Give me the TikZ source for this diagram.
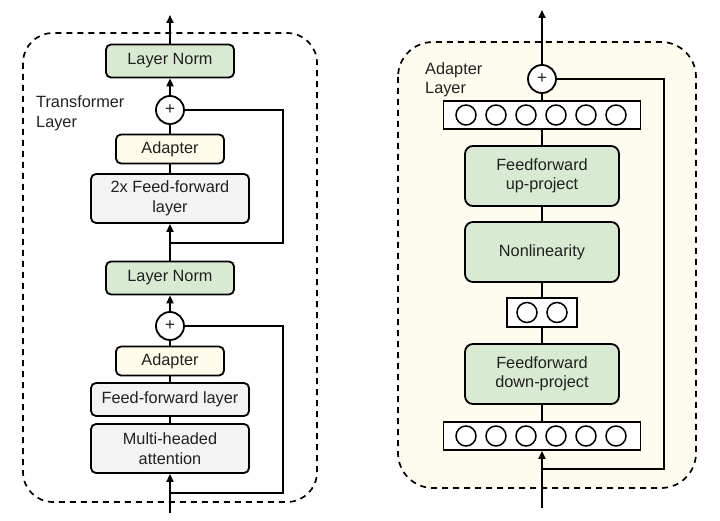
\documentclass[tikz,border=0pt]{standalone}
\usepackage{fontspec}
\setmainfont{Liberation Sans}
\usetikzlibrary{arrows.meta}
\definecolor{normgreen}{HTML}{D9EAD3}
\definecolor{adaptyellow}{HTML}{FFFCEC}
\definecolor{layeryellow}{HTML}{FEFCEE}
\definecolor{ffgray}{HTML}{F3F3F3}
\definecolor{txtgray}{HTML}{212121}

\tikzset{
  blk/.style={draw=black, line width=1.8pt, rounded corners=5pt, align=center,
    text=txtgray, inner sep=0pt, font=\fontsize{16.3}{19.5}\selectfont},
  normblk/.style={blk, fill=normgreen, minimum width=128pt, minimum height=33pt},
  adaptblk/.style={blk, fill=adaptyellow, minimum width=108pt, minimum height=29pt},
  ffblk/.style={blk, fill=ffgray, minimum width=158pt},
  projblk/.style={blk, fill=normgreen, rounded corners=8pt, minimum width=154pt, minimum height=60pt},
  vecbox/.style={draw=black, line width=1.8pt, fill=white, inner sep=0pt},
  unit/.style={circle, draw=black, line width=1.5pt, fill=white, minimum size=20pt, inner sep=0pt},
  plus/.style={circle, draw=black, line width=1.8pt, fill=white, minimum size=28pt, inner sep=0pt,
    text=txtgray, font=\fontsize{17}{17}\selectfont},
  lbl/.style={align=left, text=txtgray, inner sep=0pt, font=\fontsize{16.3}{19.5}\selectfont},
  layerbox/.style={line width=1.7pt, dash pattern=on 6pt off 5pt},
  conn/.style={line width=1.8pt},
  arr/.style={conn, -{Triangle[length=8pt,width=7pt]}}
}

\begin{document}
\begin{tikzpicture}[x=1pt,y=-1pt]
\useasboundingbox (0,0) rectangle (720,521);

% transformer layer
\draw[layerbox, rounded corners=30pt] (23,33) rectangle (317,502);
\node[lbl, anchor=north west] (tlbl) at (36,96) {Transformer\\Layer};

\node[normblk] (ln1) at (170,61) {Layer Norm};
\node[plus] (plus1) at (170,110) {+};
\node[adaptblk] (ad1) at (170,149) {Adapter};
\node[ffblk, minimum height=49pt] (ff2) at (170,198.5) {2x Feed-forward\\layer};
\node[normblk] (ln2) at (170,278) {Layer Norm};
\node[plus] (plus2) at (170,326) {+};
\node[adaptblk] (ad2) at (170,361) {Adapter};
\node[ffblk, minimum height=33pt] (ff1) at (170,399.5) {Feed-forward layer};
\node[ffblk, minimum height=49pt] (mha) at (170,448.5) {Multi-headed\\attention};

\coordinate (out1) at (170,15);
\coordinate (in1) at (170,513);
\coordinate (s1) at (283,243);
\coordinate (j1) at (170,243);
\coordinate (s2) at (283,493);
\coordinate (j2) at (170,493);

\draw[arr] (ln1) -- (out1);
\draw[arr] (plus1) -- (ln1);
\draw[conn] (ad1) -- (plus1);
\draw[conn] (ff2) -- (ad1);
\draw[arr] (ln2) -- (ff2);
\draw[arr] (plus2) -- (ln2);
\draw[conn] (ad2) -- (plus2);
\draw[conn] (ff1) -- (ad2);
\draw[conn] (mha) -- (ff1);
\draw[arr] (in1) -- (mha);
\draw[conn] (plus1.east) -| (s1) -- (j1);
\draw[conn] (plus2.east) -| (s2) -- (j2);

% adapter layer
\draw[layerbox, fill=layeryellow, rounded corners=35pt] (398,42) rectangle (696,488);
\node[lbl, anchor=north west] (albl) at (425,62) {Adapter\\Layer};

\node[plus] (plus3) at (542,79) {+};
\node[vecbox, minimum width=197pt, minimum height=28pt] (vtop) at (542,115) {};
\foreach \i in {0,...,5}
  \node[unit] (t\i) at ({466+30*\i},115) {};
\node[projblk] (up) at (542,176) {Feedforward\\up-project};
\node[projblk] (nl) at (542,252) {Nonlinearity};
\node[vecbox, minimum width=70pt, minimum height=29pt] (vmid) at (542,312.5) {};
\foreach \i in {0,1}
  \node[unit] (m\i) at ({527+30*\i},312.5) {};
\node[projblk] (down) at (542,374) {Feedforward\\down-project};
\node[vecbox, minimum width=197pt, minimum height=28pt] (vbot) at (542,436) {};
\foreach \i in {0,...,5}
  \node[unit] (b\i) at ({466+30*\i},436) {};

\coordinate (out2) at (542,10);
\coordinate (in2) at (542,508);
\coordinate (s3) at (664,469);
\coordinate (j3) at (542,469);

\draw[arr] (plus3) -- (out2);
\draw[conn] (vtop) -- (plus3);
\draw[conn] (up) -- (vtop);
\draw[conn] (nl) -- (up);
\draw[conn] (vmid) -- (nl);
\draw[conn] (down) -- (vmid);
\draw[conn] (vbot) -- (down);
\draw[arr] (in2) -- (vbot);
\draw[conn] (plus3.east) -| (s3) -- (j3);
\end{tikzpicture}
\end{document}
